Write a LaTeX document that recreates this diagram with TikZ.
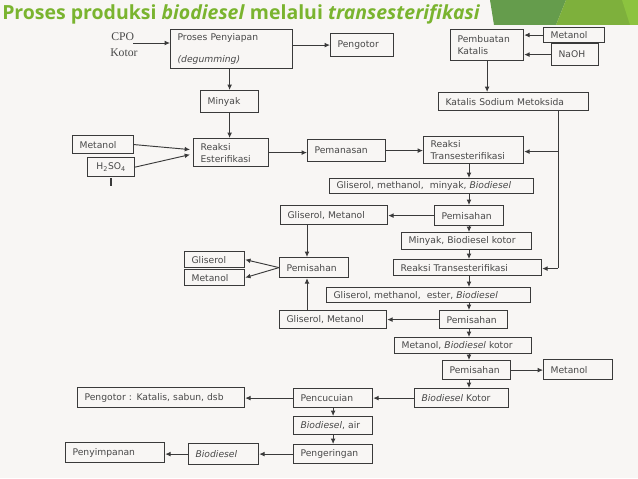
\documentclass[tikz,border=0pt]{standalone}
\usepackage{fontspec}
\usetikzlibrary{arrows.meta,calc}
\newfontfamily\dv{DejaVu Sans}
\newfontfamily\ttl{Open Sans}
\newfontfamily\srf{Liberation Serif}
\definecolor{bgc}{HTML}{F8F6F4}
\definecolor{boxc}{HTML}{3A3A3A}
\definecolor{txc}{HTML}{484848}
\definecolor{ttlc}{HTML}{7AB42F}
\definecolor{gA}{HTML}{659C4C}
\definecolor{gB}{HTML}{7EB03C}
\definecolor{gC}{HTML}{8CC33F}
\tikzset{
  box/.style={draw=boxc,line width=0.9pt,inner xsep=5.25pt,inner ysep=0pt,
    font=\dv\fontsize{6.9}{8}\selectfont,text=txc,align=left},
  arr/.style={draw=boxc,line width=0.7pt,-{Latex[length=4pt,width=3.6pt]}},
  ln/.style={draw=boxc,line width=0.7pt}
}
\newcommand\bx[7][]{%
  \pgfmathsetlengthmacro\bxw{(#5-#3)*0.75pt-10.5pt}%
  \pgfmathsetlengthmacro\bxh{(#6-#4)*0.75pt}%
  \node[box,#1,text width=\bxw,minimum height=\bxh,anchor=north west] (#2) at (#3,#4) {#7};}
\begin{document}
\begin{tikzpicture}[x=0.75pt,y=-0.75pt]
\fill[bgc] (0,0) rectangle (638,478);
\useasboundingbox (0,0) rectangle (638,478);
% decorative green band
\fill[gA] (490,0) -- (566,0) -- (556,25) -- (494,25) -- cycle;
\fill[gB] (566,0) -- (638,0) -- (638,25) -- (556,25) -- cycle;
\fill[gC] (622,0) -- (638,0) -- (638,25) -- (630,25) -- cycle;
% title
\node[anchor=base west,inner sep=0,text=ttlc,font=\ttl\bfseries\fontsize{14.6}{17}\selectfont] (title) at (2,20)
  {Proses produksi \textit{biodiesel} melalui \textit{transesterifikasi}};
% CPO Kotor
\node[anchor=west,inner sep=0,font=\srf\fontsize{8.8}{10}\selectfont,text=txc] (cpo) at (111,37) {CPO};
\node[anchor=west,inner sep=0,font=\srf\fontsize{8.8}{10}\selectfont,text=txc] (kotor) at (110,53) {Kotor};
\coordinate (cpoa) at (133,43);
% boxes
\bx{ppy}{170}{29}{292}{68}{Proses Penyiapan\\[8pt]\textit{(degumming)}}
\bx{pgt}{330}{33}{393}{56}{Pengotor}
\bx{mny}{200}{90}{258}{112}{Minyak}
\bx{pkt}{450}{29}{523}{60}{Pembuatan\\[1pt]Katalis}
\bx{mta}{543}{27}{604}{42}{Metanol}
\bx{naoh}{551}{43}{598}{65}{NaOH}
\bx{ksm}{438}{92}{588}{110}{Katalis Sodium Metoksida}
\bx{mtb}{72}{135}{133}{153}{Metanol}
\bx[align=center]{hso}{87}{157}{134}{176}{H\textsubscript{2}SO\textsubscript{4}}
\bx{res}{193}{138}{268}{166}{Reaksi\\[1pt]Esterifikasi}
\bx{pem}{307}{139}{385}{161}{Pemanasan}
\bx{rta}{423}{136}{523}{163}{Reaksi\\[1pt]Transesterifikasi}
\bx{gla}{329}{178}{533}{193}{Gliserol, methanol,\ \ minyak, \textit{Biodiesel}}
\bx{psa}{434}{205}{503}{225}{Pemisahan}
\bx{gma}{280}{205}{387}{224}{Gliserol, Metanol}
\bx{mbk}{401}{232}{531}{249}{Minyak, Biodiesel kotor}
\bx{rtb}{393}{259}{541}{275}{Reaksi Transesterifikasi}
\bx{glb}{326}{287}{530}{302}{Gliserol, methanol,\ \ ester, \textit{Biodiesel}}
\bx{psb}{439}{310}{507}{328}{Pemisahan}
\bx{gmb}{279}{310}{386}{328}{Gliserol, Metanol}
\bx{psm}{279}{257}{348}{277}{Pemisahan}
\bx{gl}{184}{251}{244}{267}{Gliserol}
\bx{mtc}{184}{269}{244}{285}{Metanol}
\bx{mbd}{394}{337}{531}{353}{Metanol, \textit{Biodiesel} kotor}
\bx{psc}{442}{360}{510}{379}{Pemisahan}
\bx{mtd}{543}{359}{612}{379}{Metanol}
\bx{bk}{414}{388}{508}{407}{\textit{Biodiesel} Kotor}
\bx{pc}{293}{388}{372}{407}{Pencucuian}
\bx{pk}{77}{387}{244}{407}{Pengotor : Katalis, sabun, dsb}
\bx{ba}{293}{416}{372}{434}{\textit{Biodiesel}, air}
\bx{pg}{293}{444}{372}{463}{Pengeringan}
\bx{bd}{188}{443}{258}{464}{\textit{Biodiesel}}
\bx{pn}{65}{442}{164}{462}{Penyimpanan}
% stray mark
\draw[line width=1.6pt,boxc] (hso.south) ++(-0.5,1) -- ++(0,8);
% coordinates
\coordinate (col) at (469,0);
\coordinate (rl) at (558,0);
\coordinate (cl) at (307,0);
% connectors
\draw[arr] (cpoa) -- (cpoa -| ppy.west);
\draw[arr] (ppy.east |- pgt.west) -- (pgt.west);
\draw[arr] (mny.north |- ppy.south) -- (mny.north);
\draw[arr] (mta.west) -- (mta.west -| pkt.east);
\draw[arr] (naoh.west) -- (naoh.west -| pkt.east);
\draw[arr] (pkt.south) -- (pkt.south |- ksm.north);
\draw[ln] (ksm.south -| rl) -- (rtb.east -| rl);
\draw[arr] ($(rta.east -| rl)+(0,1.5)$) -- ($(rta.east)+(0,1.5)$);
\draw[arr] ($(rtb.east -| rl)+(0,1)$) -- ($(rtb.east)+(0,1)$);
\draw[arr] (mny.south) -- (mny.south |- res.north);
\draw[arr] (mtb.east) -- ($(res.west)+(-3,-3)$);
\draw[arr] (hso.east) -- ($(res.west)+(-3,2)$);
\draw[arr] (res.east) -- (res.east -| pem.west);
\draw[arr] (pem.east) -- (pem.east -| rta.west);
\draw[arr] (rta.south -| col) -- (gla.north -| col);
\draw[arr] (gla.south -| col) -- (psa.north -| col);
\draw[arr] (psa.south -| col) -- (mbk.north -| col);
\draw[arr] (mbk.south -| col) -- (rtb.north -| col);
\draw[arr] (rtb.south -| col) -- (glb.north -| col);
\draw[arr] (glb.south -| col) -- (psb.north -| col);
\draw[arr] (psb.south -| col) -- (mbd.north -| col);
\draw[arr] (mbd.south -| col) -- (psc.north -| col);
\draw[arr] (psc.south -| col) -- (bk.north -| col);
\draw[arr] (psa.west) -- (psa.west -| gma.east);
\draw[arr] (psb.west) -- (psb.west -| gmb.east);
\draw[arr] (gma.south -| cl) -- (psm.north -| cl);
\draw[arr] (gmb.north -| cl) -- (psm.south -| cl);
\draw[arr] (psm.west) -- (gl.east);
\draw[arr] (psm.west) -- (mtc.east);
\draw[arr] (psc.east) -- (psc.east -| mtd.west);
\draw[arr] (bk.west) -- (bk.west -| pc.east);
\draw[arr] (pc.west) -- (pc.west -| pk.east);
\draw[arr] (pc.south) -- (pc.south |- ba.north);
\draw[arr] (ba.south) -- (ba.south |- pg.north);
\draw[arr] (pg.west) -- (pg.west -| bd.east);
\draw[arr] (bd.west) -- (bd.west -| pn.east);
\end{tikzpicture}
\end{document}
